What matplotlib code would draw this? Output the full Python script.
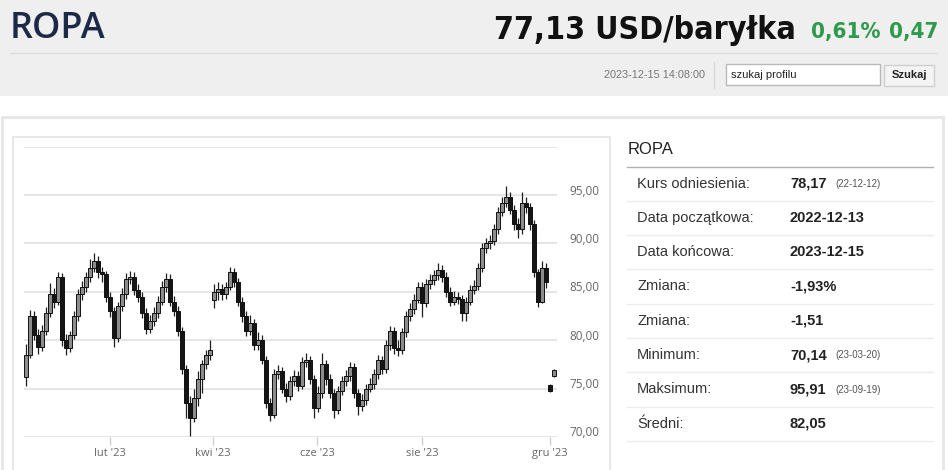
import numpy as np
import matplotlib
matplotlib.use("Agg")
import matplotlib.pyplot as plt
from matplotlib.patches import Rectangle
from matplotlib.lines import Line2D
from matplotlib.transforms import ScaledTranslation
from matplotlib import font_manager

# --- data (one candle per ~2 sessions) ---
opens = [76.2, 78.5, 82.5, 80.5, 79.3, 81.0, 82.8, 84.8, 84.0, 86.5,
         80.0, 79.2, 80.5, 82.5, 84.8, 85.5, 86.5, 87.5, 88.2, 87.0,
         86.8, 84.5, 83.0, 80.2, 83.5, 84.8, 86.3, 86.5, 85.2, 84.5,
         82.8, 81.2, 82.0, 82.8, 84.0, 85.5, 86.3, 84.0, 83.0, 81.0,
         77.0, 73.5, 72.0, 74.0, 76.0, 77.5, 78.5, 84.2, 85.0, 85.3,
         84.8, 85.5, 87.0, 86.0, 84.0, 82.5, 81.0, 81.8, 79.5, 80.0,
         78.0, 73.5, 72.3, 76.5, 76.8, 75.0, 74.2, 75.8, 76.3, 75.3,
         77.8, 78.0, 76.0, 73.0, 74.5, 77.5, 76.0, 74.5, 72.8, 74.8,
         75.8, 76.3, 77.2, 74.5, 73.2, 73.8, 75.0, 75.5, 76.5, 78.0,
         77.0, 79.5, 81.0, 79.2, 79.0, 80.8, 82.5, 83.2, 84.2, 85.5,
         83.8, 85.8, 86.2, 86.7, 87.3, 86.5, 85.0, 84.0, 84.5, 84.3,
         82.8, 84.0, 85.2, 85.6, 87.5, 89.5, 90.0, 90.3, 91.5, 93.3,
         94.2, 94.8, 93.5, 92.0, 91.5, 94.2, 93.8, 92.0, 87.0, 84.0,
         87.5, 75.4, 76.3]
closes = [78.5, 82.5, 80.5, 79.3, 81.0, 82.8, 84.8, 84.0, 86.5, 80.0,
          79.2, 80.5, 82.5, 84.8, 85.5, 86.5, 87.5, 88.2, 87.0, 86.8,
          84.5, 83.0, 80.2, 83.5, 84.8, 86.3, 86.5, 85.2, 84.5, 82.8,
          81.2, 82.0, 82.8, 84.0, 85.5, 86.3, 84.0, 83.0, 81.0, 77.0,
          73.5, 72.0, 74.0, 76.0, 77.5, 78.5, 79.0, 85.0, 85.3, 84.8,
          85.5, 87.0, 86.0, 84.0, 82.5, 81.0, 81.8, 79.5, 80.0, 78.0,
          73.5, 72.3, 76.5, 76.8, 75.0, 74.2, 75.8, 76.3, 75.3, 77.8,
          78.0, 76.0, 73.0, 74.5, 77.5, 76.0, 74.5, 72.8, 74.8, 75.8,
          76.3, 77.2, 74.5, 73.2, 73.8, 75.0, 75.5, 76.5, 78.0, 77.0,
          79.5, 81.0, 79.2, 79.0, 80.8, 82.5, 83.2, 84.2, 85.5, 83.8,
          85.8, 86.2, 86.7, 87.3, 86.5, 85.0, 84.0, 84.5, 84.3, 82.8,
          84.0, 85.2, 85.6, 87.5, 89.5, 90.0, 90.3, 91.5, 93.3, 94.2,
          94.8, 93.5, 92.0, 91.5, 94.2, 93.8, 92.0, 87.0, 84.0, 87.5,
          86.0, 74.8, 76.9]
highs = [79.6, 83.1, 83.0, 81.2, 81.6, 83.4, 85.9, 85.4, 87.0, 86.9,
         80.6, 81.0, 83.0, 85.3, 86.1, 87.0, 88.4, 89.0, 88.7, 87.6,
         87.2, 85.0, 83.4, 84.0, 85.4, 86.9, 87.2, 87.0, 85.8, 85.0,
         83.3, 82.6, 83.4, 84.6, 86.1, 86.9, 86.8, 84.6, 83.5, 81.4,
         77.4, 74.2, 75.0, 76.8, 78.0, 79.0, 80.0, 85.8, 86.0, 85.8,
         86.0, 87.6, 87.5, 86.4, 84.5, 83.0, 82.6, 82.2, 80.8, 80.5,
         78.4, 74.0, 77.0, 77.4, 77.2, 75.6, 76.3, 76.9, 76.8, 78.3,
         78.7, 78.4, 76.4, 75.3, 78.7, 78.0, 76.5, 75.0, 75.3, 76.3,
         76.9, 77.8, 77.6, 75.0, 74.4, 75.5, 76.1, 77.0, 78.5, 78.4,
         80.0, 81.5, 81.4, 80.0, 81.3, 83.0, 83.8, 84.8, 86.0, 86.0,
         86.3, 86.8, 87.3, 88.0, 87.8, 87.0, 85.5, 85.1, 85.0, 84.7,
         84.5, 85.7, 86.2, 88.0, 90.0, 90.6, 90.9, 92.0, 93.8, 94.8,
         95.9, 95.3, 94.0, 92.6, 95.3, 94.8, 94.2, 92.4, 87.4, 88.2,
         88.0, 75.5, 77.0]
lows = [75.3, 78.2, 80.0, 78.6, 78.9, 80.5, 82.4, 83.3, 83.6, 79.4,
        78.5, 78.8, 80.1, 82.0, 84.2, 85.0, 86.0, 87.0, 86.4, 86.0,
        84.0, 82.4, 79.3, 79.8, 83.0, 84.3, 85.8, 84.7, 83.9, 82.3,
        80.6, 80.7, 81.5, 82.3, 83.6, 85.0, 83.5, 82.5, 80.4, 76.5,
        72.0, 70.1, 71.5, 73.2, 74.5, 77.0, 78.0, 83.3, 84.2, 84.2,
        84.3, 85.2, 85.5, 83.5, 81.9, 80.4, 80.5, 79.0, 79.0, 77.5,
        73.0, 71.7, 72.0, 76.0, 74.5, 73.6, 73.8, 75.3, 74.8, 75.0,
        77.2, 75.5, 72.0, 72.6, 74.0, 75.4, 74.0, 72.0, 72.4, 74.3,
        75.3, 75.8, 74.0, 72.3, 72.7, 73.3, 74.6, 75.0, 76.0, 76.5,
        76.6, 79.0, 78.6, 78.4, 78.6, 80.3, 82.0, 82.7, 83.8, 82.4,
        83.4, 85.3, 85.7, 86.2, 86.0, 84.5, 83.5, 83.6, 83.7, 82.0,
        82.0, 83.6, 84.8, 85.2, 87.0, 89.0, 89.4, 89.8, 91.0, 92.8,
        93.8, 93.0, 91.4, 90.6, 91.0, 93.2, 91.4, 86.5, 83.4, 83.8,
        85.4, 74.6, 76.2]

price_levels = [70, 75, 80, 85, 90, 95, 100]
price_labels = ["70,00", "75,00", "80,00", "85,00", "90,00", "95,00", ""]
month_labels = ["lut '23", "kwi '23", "cze '23", "sie '23", "gru '23"]
month_pos = [21, 46.75, 72.75, 99, 131]

stat_names = ["Kurs odniesienia:", "Data początkowa:", "Data końcowa:", "Zmiana:",
              "Zmiana:", "Minimum:", "Maksimum:", "Średni:"]
stat_values = ["78,17", "2022-12-13", "2023-12-15", "-1,93%", "-1,51", "70,14", "95,91", "82,05"]
stat_dates = ["(22-12-12)", "", "", "", "", "(23-03-20)", "(23-09-19)", ""]

W, H = 948, 470
fig = plt.figure(figsize=(W / 100, H / 100), dpi=100)
fig.patch.set_facecolor("white")


def fx(x):
    return x / W


def fy(y):
    return 1 - y / H


def box(x, y, w, h, **kw):
    fig.add_artist(Rectangle((fx(x), fy(y + h)), w / W, h / H,
                             transform=fig.transFigure, **kw))


def hline(x0, x1, y, **kw):
    fig.add_artist(Line2D([fx(x0), fx(x1)], [fy(y), fy(y)], transform=fig.transFigure, **kw))


# a condensed face for the header figures, if one is installed
cond = None
for f in font_manager.fontManager.ttflist:
    if f.name == "DejaVu Sans" and f.stretch == "condensed" and f.weight in (700, "bold"):
        cond = f.fname
        break
if cond:
    big_font = dict(fname=cond)
    big_size, pct_size = 23, 16
else:
    big_font = dict(family="Liberation Sans", weight="bold")
    big_size, pct_size = 21, 14.5
big_prop = font_manager.FontProperties(**big_font)

# header band
box(0, 0, W, 96, facecolor="#efefef", edgecolor="none", zorder=0)
hline(10, 936, 53, color="#dcdcdc", lw=1)
fig.text(fx(10), fy(38), "ROPA", fontsize=26, color="#1c2a48", family="Open Sans",
         weight=600, va="baseline", ha="left")
t = fig.text(fx(796), fy(39), "77,13 USD/baryłka", color="#111",
             fontproperties=big_prop, va="baseline", ha="right")
t.set_fontsize(big_size)
t = fig.text(fx(811), fy(38), "0,61%", color="#2e9a4b",
             fontproperties=big_prop, va="baseline", ha="left")
t.set_fontsize(pct_size)
t = fig.text(fx(938), fy(38), "0,47", color="#2e9a4b",
             fontproperties=big_prop, va="baseline", ha="right")
t.set_fontsize(pct_size)
fig.text(fx(705), fy(74.5), "2023-12-15 14:08:00", fontsize=7.8, color="#777",
         family="Liberation Sans", va="center", ha="right")
fig.add_artist(Line2D([fx(714), fx(714)], [fy(62), fy(88)], transform=fig.transFigure,
                      color="#d8d8d8", lw=1))
box(726, 64, 154, 21, facecolor="white", edgecolor="#b9b9b9", lw=1)
fig.text(fx(731), fy(74.5), "szukaj profilu", fontsize=8, color="#222",
         family="Liberation Sans", va="center", ha="left")
box(884, 65, 50, 21, facecolor="#f4f4f4", edgecolor="#cfcfcf", lw=1)
fig.text(fx(909), fy(75.5), "Szukaj", fontsize=8, weight="bold", color="#222",
         family="Liberation Sans", va="center", ha="center")

# panels
box(2, 117, 941, 370, facecolor="none", edgecolor="#e6e6e6", lw=2)
box(13, 137, 597, 350, facecolor="none", edgecolor="#e4e4e4", lw=1.2)

# candlestick chart
ax = fig.add_axes([fx(24), fy(437), (557 - 24) / W, (437 - 146.7) / H])
o = np.array(opens)
c = np.array(closes)
idx = np.arange(len(c))
up = c >= o
bottoms = np.minimum(o, c)
heights = np.maximum(np.abs(c - o), 0.15)
ax.vlines(idx, lows, highs, color="#1e1e1e", lw=0.9, zorder=2)
ax.bar(idx, heights, bottom=bottoms, width=0.85,
       color=np.where(up, "#8c8c8c", "#151515"), edgecolor="#111", lw=0.7, zorder=3)

ax.set_xlim(-0.5, 132.75)
ax.set_ylim(70, 100)
ax.set_yticks(price_levels)
ax.set_yticklabels(price_labels)
ax.yaxis.tick_right()
ax.yaxis.grid(True, color="#e2e2e2", lw=1.2, zorder=0)
ax.set_axisbelow(True)
ax.tick_params(axis="y", length=0, pad=9, labelsize=8.5, labelcolor="#666")
for lab in ax.get_yticklabels():
    lab.set_family("Open Sans")
    lab.set_transform(lab.get_transform() + ScaledTranslation(0, 0.055, fig.dpi_scale_trans))
ax.set_xticks(month_pos)
ax.set_xticklabels(month_labels, family="Open Sans")
ax.tick_params(axis="x", length=6, width=1, color="#d0d0d0", pad=2, labelsize=8, labelcolor="#666")
for s in ax.spines.values():
    s.set_visible(False)

# stats table
fig.text(fx(628), fy(150), "ROPA", fontsize=12, color="#222", family="Liberation Sans",
         va="center", ha="left")
hline(627, 933, 166.7, color="#b0b0b0", lw=1)
for i, name in enumerate(stat_names):
    yc = 183.5 + i * 34.3
    fig.text(fx(637), fy(yc), name, fontsize=10.5, color="#333", family="Liberation Sans",
             va="center", ha="left")
    fig.text(fx(790), fy(yc), stat_values[i], fontsize=10.5, weight="bold", color="#222",
             family="Liberation Sans", va="center", ha="left")
    if stat_dates[i]:
        fig.text(fx(835), fy(yc + 0.5), stat_dates[i], fontsize=7, color="#555",
                 family="Liberation Sans", va="center", ha="left")
    hline(627, 933, yc + 17.3, color="#ececec", lw=1)

plt.savefig("out.png", dpi=100)
plt.close()
